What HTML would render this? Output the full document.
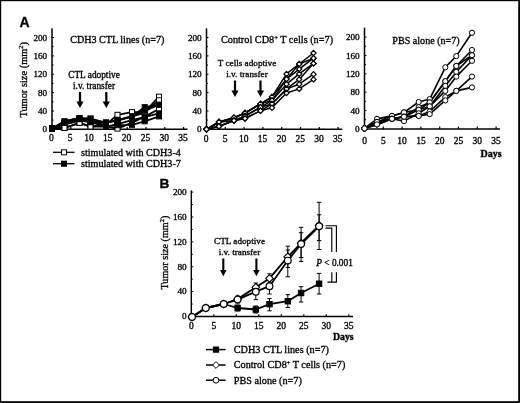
<!DOCTYPE html>
<html><head><meta charset="utf-8"><title>Figure</title>
<style>html,body{margin:0;padding:0;background:#fff}svg{display:block}</style></head>
<body>
<svg width="520" height="403" viewBox="0 0 520 403">
<rect x="0" y="0" width="520" height="403" fill="#fff"/>
<style>text{stroke:#000;stroke-width:0.32px}</style>
<line x1="52" y1="28.2" x2="52" y2="130.0" stroke="#000" stroke-width="1.5" />
<line x1="51.3" y1="129.3" x2="187.5" y2="129.3" stroke="#000" stroke-width="1.5" />
<line x1="52" y1="120.12" x2="53.55" y2="120.12" stroke="#000" stroke-width="1" />
<line x1="52" y1="110.94000000000001" x2="54.0" y2="110.94000000000001" stroke="#000" stroke-width="1" />
<line x1="52" y1="101.76" x2="53.55" y2="101.76" stroke="#000" stroke-width="1" />
<line x1="52" y1="92.58000000000001" x2="54.0" y2="92.58000000000001" stroke="#000" stroke-width="1" />
<line x1="52" y1="83.4" x2="53.55" y2="83.4" stroke="#000" stroke-width="1" />
<line x1="52" y1="74.22" x2="54.0" y2="74.22" stroke="#000" stroke-width="1" />
<line x1="52" y1="65.04" x2="53.55" y2="65.04" stroke="#000" stroke-width="1" />
<line x1="52" y1="55.860000000000014" x2="54.0" y2="55.860000000000014" stroke="#000" stroke-width="1" />
<line x1="52" y1="46.68000000000001" x2="53.55" y2="46.68000000000001" stroke="#000" stroke-width="1" />
<line x1="52" y1="37.500000000000014" x2="54.0" y2="37.500000000000014" stroke="#000" stroke-width="1" />
<text x="47.2" y="132.4" font-size="9.2" text-anchor="end" font-family="Liberation Serif, serif" >0</text>
<text x="47.2" y="114.04" font-size="9.2" text-anchor="end" font-family="Liberation Serif, serif" >40</text>
<text x="47.2" y="95.68" font-size="9.2" text-anchor="end" font-family="Liberation Serif, serif" >80</text>
<text x="47.2" y="77.32" font-size="9.2" text-anchor="end" font-family="Liberation Serif, serif" >120</text>
<text x="47.2" y="58.960000000000015" font-size="9.2" text-anchor="end" font-family="Liberation Serif, serif" >160</text>
<text x="47.2" y="40.600000000000016" font-size="9.2" text-anchor="end" font-family="Liberation Serif, serif" >200</text>
<line x1="70.8" y1="129.3" x2="70.8" y2="127.00000000000001" stroke="#000" stroke-width="1.2" />
<line x1="89.6" y1="129.3" x2="89.6" y2="127.00000000000001" stroke="#000" stroke-width="1.2" />
<line x1="108.4" y1="129.3" x2="108.4" y2="127.00000000000001" stroke="#000" stroke-width="1.2" />
<line x1="127.19999999999999" y1="129.3" x2="127.19999999999999" y2="127.00000000000001" stroke="#000" stroke-width="1.2" />
<line x1="146.0" y1="129.3" x2="146.0" y2="127.00000000000001" stroke="#000" stroke-width="1.2" />
<line x1="164.8" y1="129.3" x2="164.8" y2="127.00000000000001" stroke="#000" stroke-width="1.2" />
<line x1="183.6" y1="129.3" x2="183.6" y2="127.00000000000001" stroke="#000" stroke-width="1.2" />
<text x="51.4" y="141.4" font-size="9.5" text-anchor="middle" font-family="Liberation Serif, serif" >0</text>
<text x="70.2" y="141.4" font-size="9.5" text-anchor="middle" font-family="Liberation Serif, serif" >5</text>
<text x="89.0" y="141.4" font-size="9.5" text-anchor="middle" font-family="Liberation Serif, serif" >10</text>
<text x="107.80000000000001" y="141.4" font-size="9.5" text-anchor="middle" font-family="Liberation Serif, serif" >15</text>
<text x="126.6" y="141.4" font-size="9.5" text-anchor="middle" font-family="Liberation Serif, serif" >20</text>
<text x="145.4" y="141.4" font-size="9.5" text-anchor="middle" font-family="Liberation Serif, serif" >25</text>
<text x="164.20000000000002" y="141.4" font-size="9.5" text-anchor="middle" font-family="Liberation Serif, serif" >30</text>
<text x="183.0" y="141.4" font-size="9.5" text-anchor="middle" font-family="Liberation Serif, serif" >35</text>
<text x="19.6" y="27.3" font-size="14" text-anchor="start" font-family="Liberation Sans, sans-serif" font-weight="bold" >A</text>
<text transform="translate(26.6,79.8) rotate(-90)" font-size="10.4" text-anchor="middle" font-family="Liberation Serif, serif">Tumor size (mm<tspan font-size="6.5" dy="-3.5">2</tspan><tspan dy="3.5">)</tspan></text>
<text x="117.3" y="42.6" font-size="10.1" text-anchor="middle" font-family="Liberation Serif, serif" >CDH3 CTL lines (n=7)</text>
<text x="94" y="77.8" font-size="9.3" text-anchor="middle" font-family="Liberation Serif, serif" >CTL adoptive</text>
<text x="94" y="88.5" font-size="9.3" text-anchor="middle" font-family="Liberation Serif, serif" >i.v. transfer</text>
<line x1="80" y1="92" x2="80" y2="102.5" stroke="#000" stroke-width="2.2" />
<path d="M76.4 101.5L83.6 101.5L80 108Z" fill="#000"/>
<line x1="106.3" y1="92" x2="106.3" y2="102.5" stroke="#000" stroke-width="2.2" />
<path d="M102.7 101.5L109.89999999999999 101.5L106.3 108Z" fill="#000"/>
<polyline points="52.0,128.6 64.5,128.0 79.5,122.9 90.5,126.6 106.0,124.6 117.5,114.8 132.0,112.1 144.7,112.1 159.0,96.7" fill="none" stroke="#000" stroke-width="1.8" stroke-linejoin="round"/>
<polyline points="52.0,128.6 64.5,124.6 79.5,120.6 90.5,122.1 106.0,122.6 117.5,120.6 132.0,116.6 144.7,112.6 159.0,100.2" fill="none" stroke="#000" stroke-width="1.8" stroke-linejoin="round"/>
<polyline points="52.0,128.6 64.5,128.0 79.5,122.9 90.5,126.6 106.0,126.6 117.5,128.6 132.0,122.6 144.7,116.6 159.0,109.0" fill="none" stroke="#000" stroke-width="1.8" stroke-linejoin="round"/>
<rect x="49.5" y="126.1" width="5" height="5" fill="#fff" stroke="#000" stroke-width="1"/>
<rect x="62.0" y="125.5" width="5" height="5" fill="#fff" stroke="#000" stroke-width="1"/>
<rect x="77.0" y="120.4" width="5" height="5" fill="#fff" stroke="#000" stroke-width="1"/>
<rect x="88.0" y="124.1" width="5" height="5" fill="#fff" stroke="#000" stroke-width="1"/>
<rect x="103.5" y="122.1" width="5" height="5" fill="#fff" stroke="#000" stroke-width="1"/>
<rect x="115.0" y="112.3" width="5" height="5" fill="#fff" stroke="#000" stroke-width="1"/>
<rect x="129.5" y="109.6" width="5" height="5" fill="#fff" stroke="#000" stroke-width="1"/>
<rect x="142.2" y="109.6" width="5" height="5" fill="#fff" stroke="#000" stroke-width="1"/>
<rect x="156.5" y="94.2" width="5" height="5" fill="#fff" stroke="#000" stroke-width="1"/>
<rect x="49.5" y="126.1" width="5" height="5" fill="#fff" stroke="#000" stroke-width="1"/>
<rect x="62.0" y="122.1" width="5" height="5" fill="#fff" stroke="#000" stroke-width="1"/>
<rect x="77.0" y="118.1" width="5" height="5" fill="#fff" stroke="#000" stroke-width="1"/>
<rect x="88.0" y="119.6" width="5" height="5" fill="#fff" stroke="#000" stroke-width="1"/>
<rect x="103.5" y="120.1" width="5" height="5" fill="#fff" stroke="#000" stroke-width="1"/>
<rect x="115.0" y="118.1" width="5" height="5" fill="#fff" stroke="#000" stroke-width="1"/>
<rect x="129.5" y="114.1" width="5" height="5" fill="#fff" stroke="#000" stroke-width="1"/>
<rect x="142.2" y="110.1" width="5" height="5" fill="#fff" stroke="#000" stroke-width="1"/>
<rect x="156.5" y="97.7" width="5" height="5" fill="#fff" stroke="#000" stroke-width="1"/>
<rect x="49.5" y="126.1" width="5" height="5" fill="#fff" stroke="#000" stroke-width="1"/>
<rect x="62.0" y="125.5" width="5" height="5" fill="#fff" stroke="#000" stroke-width="1"/>
<rect x="77.0" y="120.4" width="5" height="5" fill="#fff" stroke="#000" stroke-width="1"/>
<rect x="88.0" y="124.1" width="5" height="5" fill="#fff" stroke="#000" stroke-width="1"/>
<rect x="103.5" y="124.1" width="5" height="5" fill="#fff" stroke="#000" stroke-width="1"/>
<rect x="115.0" y="126.1" width="5" height="5" fill="#fff" stroke="#000" stroke-width="1"/>
<rect x="129.5" y="120.1" width="5" height="5" fill="#fff" stroke="#000" stroke-width="1"/>
<rect x="142.2" y="114.1" width="5" height="5" fill="#fff" stroke="#000" stroke-width="1"/>
<rect x="156.5" y="106.5" width="5" height="5" fill="#fff" stroke="#000" stroke-width="1"/>
<polyline points="52.0,128.6 64.5,121.4 79.5,118.0 90.5,118.6 106.0,122.6 117.5,120.2 132.0,116.4 144.7,107.1 159.0,104.8" fill="none" stroke="#000" stroke-width="1.8" stroke-linejoin="round"/>
<rect x="49.5" y="126.1" width="5" height="5" fill="#000" stroke="#000" stroke-width="1"/>
<rect x="62.0" y="118.9" width="5" height="5" fill="#000" stroke="#000" stroke-width="1"/>
<rect x="77.0" y="115.5" width="5" height="5" fill="#000" stroke="#000" stroke-width="1"/>
<rect x="88.0" y="116.1" width="5" height="5" fill="#000" stroke="#000" stroke-width="1"/>
<rect x="103.5" y="120.1" width="5" height="5" fill="#000" stroke="#000" stroke-width="1"/>
<rect x="115.0" y="117.7" width="5" height="5" fill="#000" stroke="#000" stroke-width="1"/>
<rect x="129.5" y="113.9" width="5" height="5" fill="#000" stroke="#000" stroke-width="1"/>
<rect x="142.2" y="104.6" width="5" height="5" fill="#000" stroke="#000" stroke-width="1"/>
<rect x="156.5" y="102.3" width="5" height="5" fill="#000" stroke="#000" stroke-width="1"/>
<polyline points="52.0,128.6 64.5,121.4 79.5,118.0 90.5,122.1 106.0,122.6 117.5,120.2 132.0,116.4 144.7,110.6 159.0,104.8" fill="none" stroke="#000" stroke-width="1.8" stroke-linejoin="round"/>
<rect x="49.5" y="126.1" width="5" height="5" fill="#000" stroke="#000" stroke-width="1"/>
<rect x="62.0" y="118.9" width="5" height="5" fill="#000" stroke="#000" stroke-width="1"/>
<rect x="77.0" y="115.5" width="5" height="5" fill="#000" stroke="#000" stroke-width="1"/>
<rect x="88.0" y="119.6" width="5" height="5" fill="#000" stroke="#000" stroke-width="1"/>
<rect x="103.5" y="120.1" width="5" height="5" fill="#000" stroke="#000" stroke-width="1"/>
<rect x="115.0" y="117.7" width="5" height="5" fill="#000" stroke="#000" stroke-width="1"/>
<rect x="129.5" y="113.9" width="5" height="5" fill="#000" stroke="#000" stroke-width="1"/>
<rect x="142.2" y="108.1" width="5" height="5" fill="#000" stroke="#000" stroke-width="1"/>
<rect x="156.5" y="102.3" width="5" height="5" fill="#000" stroke="#000" stroke-width="1"/>
<polyline points="52.0,128.6 64.5,122.6 79.5,119.1 90.5,118.6 106.0,126.6 117.5,124.1 132.0,120.2 144.7,117.1 159.0,113.3" fill="none" stroke="#000" stroke-width="1.8" stroke-linejoin="round"/>
<rect x="49.5" y="126.1" width="5" height="5" fill="#000" stroke="#000" stroke-width="1"/>
<rect x="62.0" y="120.1" width="5" height="5" fill="#000" stroke="#000" stroke-width="1"/>
<rect x="77.0" y="116.6" width="5" height="5" fill="#000" stroke="#000" stroke-width="1"/>
<rect x="88.0" y="116.1" width="5" height="5" fill="#000" stroke="#000" stroke-width="1"/>
<rect x="103.5" y="124.1" width="5" height="5" fill="#000" stroke="#000" stroke-width="1"/>
<rect x="115.0" y="121.6" width="5" height="5" fill="#000" stroke="#000" stroke-width="1"/>
<rect x="129.5" y="117.7" width="5" height="5" fill="#000" stroke="#000" stroke-width="1"/>
<rect x="142.2" y="114.6" width="5" height="5" fill="#000" stroke="#000" stroke-width="1"/>
<rect x="156.5" y="110.8" width="5" height="5" fill="#000" stroke="#000" stroke-width="1"/>
<polyline points="52.0,128.6 64.5,122.6 79.5,119.1 90.5,122.1 106.0,126.6 117.5,125.2 132.0,124.8 144.7,121.3 159.0,116.4" fill="none" stroke="#000" stroke-width="1.8" stroke-linejoin="round"/>
<rect x="49.5" y="126.1" width="5" height="5" fill="#000" stroke="#000" stroke-width="1"/>
<rect x="62.0" y="120.1" width="5" height="5" fill="#000" stroke="#000" stroke-width="1"/>
<rect x="77.0" y="116.6" width="5" height="5" fill="#000" stroke="#000" stroke-width="1"/>
<rect x="88.0" y="119.6" width="5" height="5" fill="#000" stroke="#000" stroke-width="1"/>
<rect x="103.5" y="124.1" width="5" height="5" fill="#000" stroke="#000" stroke-width="1"/>
<rect x="115.0" y="122.7" width="5" height="5" fill="#000" stroke="#000" stroke-width="1"/>
<rect x="129.5" y="122.3" width="5" height="5" fill="#000" stroke="#000" stroke-width="1"/>
<rect x="142.2" y="118.8" width="5" height="5" fill="#000" stroke="#000" stroke-width="1"/>
<rect x="156.5" y="113.9" width="5" height="5" fill="#000" stroke="#000" stroke-width="1"/>
<line x1="53" y1="152.3" x2="74.5" y2="152.3" stroke="#000" stroke-width="1.3" />
<rect x="61.5" y="149.8" width="5" height="5" fill="#fff" stroke="#000" stroke-width="1"/>
<text x="81" y="155.6" font-size="10.1" text-anchor="start" font-family="Liberation Serif, serif" >stimulated with CDH3-4</text>
<line x1="53" y1="163.7" x2="74.5" y2="163.7" stroke="#000" stroke-width="1.3" />
<rect x="61.5" y="161.2" width="5" height="5" fill="#000" stroke="#000" stroke-width="1"/>
<text x="81" y="167.2" font-size="10.1" text-anchor="start" font-family="Liberation Serif, serif" >stimulated with CDH3-7</text>
<line x1="206.5" y1="28.4" x2="206.5" y2="130.0" stroke="#000" stroke-width="1.5" />
<line x1="205.8" y1="129.3" x2="342.3" y2="129.3" stroke="#000" stroke-width="1.5" />
<line x1="206.5" y1="120.12" x2="208.05" y2="120.12" stroke="#000" stroke-width="1" />
<line x1="206.5" y1="110.94000000000001" x2="208.5" y2="110.94000000000001" stroke="#000" stroke-width="1" />
<line x1="206.5" y1="101.76" x2="208.05" y2="101.76" stroke="#000" stroke-width="1" />
<line x1="206.5" y1="92.58000000000001" x2="208.5" y2="92.58000000000001" stroke="#000" stroke-width="1" />
<line x1="206.5" y1="83.4" x2="208.05" y2="83.4" stroke="#000" stroke-width="1" />
<line x1="206.5" y1="74.22" x2="208.5" y2="74.22" stroke="#000" stroke-width="1" />
<line x1="206.5" y1="65.04" x2="208.05" y2="65.04" stroke="#000" stroke-width="1" />
<line x1="206.5" y1="55.860000000000014" x2="208.5" y2="55.860000000000014" stroke="#000" stroke-width="1" />
<line x1="206.5" y1="46.68000000000001" x2="208.05" y2="46.68000000000001" stroke="#000" stroke-width="1" />
<line x1="206.5" y1="37.500000000000014" x2="208.5" y2="37.500000000000014" stroke="#000" stroke-width="1" />
<text x="201.7" y="132.4" font-size="9.2" text-anchor="end" font-family="Liberation Serif, serif" >0</text>
<text x="201.7" y="114.04" font-size="9.2" text-anchor="end" font-family="Liberation Serif, serif" >40</text>
<text x="201.7" y="95.68" font-size="9.2" text-anchor="end" font-family="Liberation Serif, serif" >80</text>
<text x="201.7" y="77.32" font-size="9.2" text-anchor="end" font-family="Liberation Serif, serif" >120</text>
<text x="201.7" y="58.960000000000015" font-size="9.2" text-anchor="end" font-family="Liberation Serif, serif" >160</text>
<text x="201.7" y="40.600000000000016" font-size="9.2" text-anchor="end" font-family="Liberation Serif, serif" >200</text>
<line x1="225.3" y1="129.3" x2="225.3" y2="127.00000000000001" stroke="#000" stroke-width="1.2" />
<line x1="244.1" y1="129.3" x2="244.1" y2="127.00000000000001" stroke="#000" stroke-width="1.2" />
<line x1="262.9" y1="129.3" x2="262.9" y2="127.00000000000001" stroke="#000" stroke-width="1.2" />
<line x1="281.7" y1="129.3" x2="281.7" y2="127.00000000000001" stroke="#000" stroke-width="1.2" />
<line x1="300.5" y1="129.3" x2="300.5" y2="127.00000000000001" stroke="#000" stroke-width="1.2" />
<line x1="319.3" y1="129.3" x2="319.3" y2="127.00000000000001" stroke="#000" stroke-width="1.2" />
<line x1="338.1" y1="129.3" x2="338.1" y2="127.00000000000001" stroke="#000" stroke-width="1.2" />
<text x="206.2" y="141.9" font-size="9.5" text-anchor="middle" font-family="Liberation Serif, serif" >0</text>
<text x="225.0" y="141.9" font-size="9.5" text-anchor="middle" font-family="Liberation Serif, serif" >5</text>
<text x="243.79999999999998" y="141.9" font-size="9.5" text-anchor="middle" font-family="Liberation Serif, serif" >10</text>
<text x="262.59999999999997" y="141.9" font-size="9.5" text-anchor="middle" font-family="Liberation Serif, serif" >15</text>
<text x="281.4" y="141.9" font-size="9.5" text-anchor="middle" font-family="Liberation Serif, serif" >20</text>
<text x="300.2" y="141.9" font-size="9.5" text-anchor="middle" font-family="Liberation Serif, serif" >25</text>
<text x="319.0" y="141.9" font-size="9.5" text-anchor="middle" font-family="Liberation Serif, serif" >30</text>
<text x="337.8" y="141.9" font-size="9.5" text-anchor="middle" font-family="Liberation Serif, serif" >35</text>
<text x="277" y="43.4" font-size="10.25" text-anchor="middle" font-family="Liberation Serif, serif">Control CD8<tspan font-size="6.5" dy="-3.5">+</tspan><tspan dy="3.5"> T cells (n=7)</tspan></text>
<text x="247" y="65.8" font-size="9.2" text-anchor="middle" font-family="Liberation Serif, serif" >T cells adoptive</text>
<text x="247" y="76.8" font-size="9.2" text-anchor="middle" font-family="Liberation Serif, serif" >i.v. transfer</text>
<line x1="235" y1="80.5" x2="235" y2="91.5" stroke="#000" stroke-width="2.2" />
<path d="M231.4 90.5L238.6 90.5L235 97Z" fill="#000"/>
<line x1="260.5" y1="80.5" x2="260.5" y2="91.5" stroke="#000" stroke-width="2.2" />
<path d="M256.9 90.5L264.1 90.5L260.5 97Z" fill="#000"/>
<polyline points="206.5,129.3 219.0,122.0 234.0,117.7 245.0,113.0 260.5,103.9 272.0,96.9 286.5,73.9 299.2,64.0 313.5,53.0" fill="none" stroke="#000" stroke-width="1.5" stroke-linejoin="round"/>
<polyline points="206.5,129.3 219.0,122.0 234.0,117.7 245.0,113.0 260.5,103.9 272.0,96.9 286.5,79.1 299.2,64.0 313.5,58.2" fill="none" stroke="#000" stroke-width="1.5" stroke-linejoin="round"/>
<polyline points="206.5,129.3 219.0,122.0 234.0,117.7 245.0,113.0 260.5,103.9 272.0,100.4 286.5,79.1 299.2,69.1 313.5,58.2" fill="none" stroke="#000" stroke-width="1.5" stroke-linejoin="round"/>
<polyline points="206.5,129.3 219.0,122.0 234.0,120.6 245.0,116.0 260.5,107.3 272.0,100.4 286.5,84.2 299.2,73.9 313.5,63.4" fill="none" stroke="#000" stroke-width="1.5" stroke-linejoin="round"/>
<polyline points="206.5,129.3 219.0,126.3 234.0,120.6 245.0,116.0 260.5,107.3 272.0,103.9 286.5,88.9 299.2,79.4 313.5,63.4" fill="none" stroke="#000" stroke-width="1.5" stroke-linejoin="round"/>
<polyline points="206.5,129.3 219.0,126.3 234.0,120.6 245.0,118.5 260.5,110.8 272.0,103.9 286.5,88.9 299.2,84.2 313.5,74.2" fill="none" stroke="#000" stroke-width="1.5" stroke-linejoin="round"/>
<polyline points="206.5,129.3 219.0,126.3 234.0,120.6 245.0,118.5 260.5,110.8 272.0,107.8 286.5,93.0 299.2,88.9 313.5,79.4" fill="none" stroke="#000" stroke-width="1.5" stroke-linejoin="round"/>
<path d="M206.5 126.7L209.1 129.3L206.5 131.9L203.9 129.3Z" fill="#fff" stroke="#000" stroke-width="1.2"/>
<path d="M219.0 119.4L221.6 122.0L219.0 124.6L216.4 122.0Z" fill="#fff" stroke="#000" stroke-width="1.2"/>
<path d="M234.0 115.1L236.6 117.7L234.0 120.3L231.4 117.7Z" fill="#fff" stroke="#000" stroke-width="1.2"/>
<path d="M245.0 110.4L247.6 113.0L245.0 115.6L242.4 113.0Z" fill="#fff" stroke="#000" stroke-width="1.2"/>
<path d="M260.5 101.3L263.1 103.9L260.5 106.5L257.9 103.9Z" fill="#fff" stroke="#000" stroke-width="1.2"/>
<path d="M272.0 94.3L274.6 96.9L272.0 99.5L269.4 96.9Z" fill="#fff" stroke="#000" stroke-width="1.2"/>
<path d="M286.5 71.3L289.1 73.9L286.5 76.5L283.9 73.9Z" fill="#fff" stroke="#000" stroke-width="1.2"/>
<path d="M299.2 61.4L301.8 64.0L299.2 66.6L296.6 64.0Z" fill="#fff" stroke="#000" stroke-width="1.2"/>
<path d="M313.5 50.4L316.1 53.0L313.5 55.6L310.9 53.0Z" fill="#fff" stroke="#000" stroke-width="1.2"/>
<path d="M206.5 126.7L209.1 129.3L206.5 131.9L203.9 129.3Z" fill="#fff" stroke="#000" stroke-width="1.2"/>
<path d="M219.0 119.4L221.6 122.0L219.0 124.6L216.4 122.0Z" fill="#fff" stroke="#000" stroke-width="1.2"/>
<path d="M234.0 115.1L236.6 117.7L234.0 120.3L231.4 117.7Z" fill="#fff" stroke="#000" stroke-width="1.2"/>
<path d="M245.0 110.4L247.6 113.0L245.0 115.6L242.4 113.0Z" fill="#fff" stroke="#000" stroke-width="1.2"/>
<path d="M260.5 101.3L263.1 103.9L260.5 106.5L257.9 103.9Z" fill="#fff" stroke="#000" stroke-width="1.2"/>
<path d="M272.0 94.3L274.6 96.9L272.0 99.5L269.4 96.9Z" fill="#fff" stroke="#000" stroke-width="1.2"/>
<path d="M286.5 76.5L289.1 79.1L286.5 81.7L283.9 79.1Z" fill="#fff" stroke="#000" stroke-width="1.2"/>
<path d="M299.2 61.4L301.8 64.0L299.2 66.6L296.6 64.0Z" fill="#fff" stroke="#000" stroke-width="1.2"/>
<path d="M313.5 55.6L316.1 58.2L313.5 60.8L310.9 58.2Z" fill="#fff" stroke="#000" stroke-width="1.2"/>
<path d="M206.5 126.7L209.1 129.3L206.5 131.9L203.9 129.3Z" fill="#fff" stroke="#000" stroke-width="1.2"/>
<path d="M219.0 119.4L221.6 122.0L219.0 124.6L216.4 122.0Z" fill="#fff" stroke="#000" stroke-width="1.2"/>
<path d="M234.0 115.1L236.6 117.7L234.0 120.3L231.4 117.7Z" fill="#fff" stroke="#000" stroke-width="1.2"/>
<path d="M245.0 110.4L247.6 113.0L245.0 115.6L242.4 113.0Z" fill="#fff" stroke="#000" stroke-width="1.2"/>
<path d="M260.5 101.3L263.1 103.9L260.5 106.5L257.9 103.9Z" fill="#fff" stroke="#000" stroke-width="1.2"/>
<path d="M272.0 97.8L274.6 100.4L272.0 103.0L269.4 100.4Z" fill="#fff" stroke="#000" stroke-width="1.2"/>
<path d="M286.5 76.5L289.1 79.1L286.5 81.7L283.9 79.1Z" fill="#fff" stroke="#000" stroke-width="1.2"/>
<path d="M299.2 66.5L301.8 69.1L299.2 71.7L296.6 69.1Z" fill="#fff" stroke="#000" stroke-width="1.2"/>
<path d="M313.5 55.6L316.1 58.2L313.5 60.8L310.9 58.2Z" fill="#fff" stroke="#000" stroke-width="1.2"/>
<path d="M206.5 126.7L209.1 129.3L206.5 131.9L203.9 129.3Z" fill="#fff" stroke="#000" stroke-width="1.2"/>
<path d="M219.0 119.4L221.6 122.0L219.0 124.6L216.4 122.0Z" fill="#fff" stroke="#000" stroke-width="1.2"/>
<path d="M234.0 118.0L236.6 120.6L234.0 123.2L231.4 120.6Z" fill="#fff" stroke="#000" stroke-width="1.2"/>
<path d="M245.0 113.4L247.6 116.0L245.0 118.6L242.4 116.0Z" fill="#fff" stroke="#000" stroke-width="1.2"/>
<path d="M260.5 104.7L263.1 107.3L260.5 109.9L257.9 107.3Z" fill="#fff" stroke="#000" stroke-width="1.2"/>
<path d="M272.0 97.8L274.6 100.4L272.0 103.0L269.4 100.4Z" fill="#fff" stroke="#000" stroke-width="1.2"/>
<path d="M286.5 81.6L289.1 84.2L286.5 86.8L283.9 84.2Z" fill="#fff" stroke="#000" stroke-width="1.2"/>
<path d="M299.2 71.3L301.8 73.9L299.2 76.5L296.6 73.9Z" fill="#fff" stroke="#000" stroke-width="1.2"/>
<path d="M313.5 60.8L316.1 63.4L313.5 66.0L310.9 63.4Z" fill="#fff" stroke="#000" stroke-width="1.2"/>
<path d="M206.5 126.7L209.1 129.3L206.5 131.9L203.9 129.3Z" fill="#fff" stroke="#000" stroke-width="1.2"/>
<path d="M219.0 123.7L221.6 126.3L219.0 128.9L216.4 126.3Z" fill="#fff" stroke="#000" stroke-width="1.2"/>
<path d="M234.0 118.0L236.6 120.6L234.0 123.2L231.4 120.6Z" fill="#fff" stroke="#000" stroke-width="1.2"/>
<path d="M245.0 113.4L247.6 116.0L245.0 118.6L242.4 116.0Z" fill="#fff" stroke="#000" stroke-width="1.2"/>
<path d="M260.5 104.7L263.1 107.3L260.5 109.9L257.9 107.3Z" fill="#fff" stroke="#000" stroke-width="1.2"/>
<path d="M272.0 101.3L274.6 103.9L272.0 106.5L269.4 103.9Z" fill="#fff" stroke="#000" stroke-width="1.2"/>
<path d="M286.5 86.3L289.1 88.9L286.5 91.5L283.9 88.9Z" fill="#fff" stroke="#000" stroke-width="1.2"/>
<path d="M299.2 76.8L301.8 79.4L299.2 82.0L296.6 79.4Z" fill="#fff" stroke="#000" stroke-width="1.2"/>
<path d="M313.5 60.8L316.1 63.4L313.5 66.0L310.9 63.4Z" fill="#fff" stroke="#000" stroke-width="1.2"/>
<path d="M206.5 126.7L209.1 129.3L206.5 131.9L203.9 129.3Z" fill="#fff" stroke="#000" stroke-width="1.2"/>
<path d="M219.0 123.7L221.6 126.3L219.0 128.9L216.4 126.3Z" fill="#fff" stroke="#000" stroke-width="1.2"/>
<path d="M234.0 118.0L236.6 120.6L234.0 123.2L231.4 120.6Z" fill="#fff" stroke="#000" stroke-width="1.2"/>
<path d="M245.0 115.9L247.6 118.5L245.0 121.1L242.4 118.5Z" fill="#fff" stroke="#000" stroke-width="1.2"/>
<path d="M260.5 108.2L263.1 110.8L260.5 113.4L257.9 110.8Z" fill="#fff" stroke="#000" stroke-width="1.2"/>
<path d="M272.0 101.3L274.6 103.9L272.0 106.5L269.4 103.9Z" fill="#fff" stroke="#000" stroke-width="1.2"/>
<path d="M286.5 86.3L289.1 88.9L286.5 91.5L283.9 88.9Z" fill="#fff" stroke="#000" stroke-width="1.2"/>
<path d="M299.2 81.6L301.8 84.2L299.2 86.8L296.6 84.2Z" fill="#fff" stroke="#000" stroke-width="1.2"/>
<path d="M313.5 71.6L316.1 74.2L313.5 76.8L310.9 74.2Z" fill="#fff" stroke="#000" stroke-width="1.2"/>
<path d="M206.5 126.7L209.1 129.3L206.5 131.9L203.9 129.3Z" fill="#fff" stroke="#000" stroke-width="1.2"/>
<path d="M219.0 123.7L221.6 126.3L219.0 128.9L216.4 126.3Z" fill="#fff" stroke="#000" stroke-width="1.2"/>
<path d="M234.0 118.0L236.6 120.6L234.0 123.2L231.4 120.6Z" fill="#fff" stroke="#000" stroke-width="1.2"/>
<path d="M245.0 115.9L247.6 118.5L245.0 121.1L242.4 118.5Z" fill="#fff" stroke="#000" stroke-width="1.2"/>
<path d="M260.5 108.2L263.1 110.8L260.5 113.4L257.9 110.8Z" fill="#fff" stroke="#000" stroke-width="1.2"/>
<path d="M272.0 105.2L274.6 107.8L272.0 110.4L269.4 107.8Z" fill="#fff" stroke="#000" stroke-width="1.2"/>
<path d="M286.5 90.4L289.1 93.0L286.5 95.6L283.9 93.0Z" fill="#fff" stroke="#000" stroke-width="1.2"/>
<path d="M299.2 86.3L301.8 88.9L299.2 91.5L296.6 88.9Z" fill="#fff" stroke="#000" stroke-width="1.2"/>
<path d="M313.5 76.8L316.1 79.4L313.5 82.0L310.9 79.4Z" fill="#fff" stroke="#000" stroke-width="1.2"/>
<line x1="364.5" y1="27.7" x2="364.5" y2="129.6" stroke="#000" stroke-width="1.5" />
<line x1="363.8" y1="128.9" x2="500" y2="128.9" stroke="#000" stroke-width="1.5" />
<line x1="364.5" y1="119.72" x2="366.05" y2="119.72" stroke="#000" stroke-width="1" />
<line x1="364.5" y1="110.54" x2="366.5" y2="110.54" stroke="#000" stroke-width="1" />
<line x1="364.5" y1="101.36" x2="366.05" y2="101.36" stroke="#000" stroke-width="1" />
<line x1="364.5" y1="92.18" x2="366.5" y2="92.18" stroke="#000" stroke-width="1" />
<line x1="364.5" y1="83.0" x2="366.05" y2="83.0" stroke="#000" stroke-width="1" />
<line x1="364.5" y1="73.82" x2="366.5" y2="73.82" stroke="#000" stroke-width="1" />
<line x1="364.5" y1="64.64" x2="366.05" y2="64.64" stroke="#000" stroke-width="1" />
<line x1="364.5" y1="55.46000000000001" x2="366.5" y2="55.46000000000001" stroke="#000" stroke-width="1" />
<line x1="364.5" y1="46.28" x2="366.05" y2="46.28" stroke="#000" stroke-width="1" />
<line x1="364.5" y1="37.10000000000001" x2="366.5" y2="37.10000000000001" stroke="#000" stroke-width="1" />
<text x="359.7" y="132.0" font-size="9.2" text-anchor="end" font-family="Liberation Serif, serif" >0</text>
<text x="359.7" y="113.64" font-size="9.2" text-anchor="end" font-family="Liberation Serif, serif" >40</text>
<text x="359.7" y="95.28" font-size="9.2" text-anchor="end" font-family="Liberation Serif, serif" >80</text>
<text x="359.7" y="76.91999999999999" font-size="9.2" text-anchor="end" font-family="Liberation Serif, serif" >120</text>
<text x="359.7" y="58.56000000000001" font-size="9.2" text-anchor="end" font-family="Liberation Serif, serif" >160</text>
<text x="359.7" y="40.20000000000001" font-size="9.2" text-anchor="end" font-family="Liberation Serif, serif" >200</text>
<line x1="383.3" y1="128.9" x2="383.3" y2="126.60000000000001" stroke="#000" stroke-width="1.2" />
<line x1="402.1" y1="128.9" x2="402.1" y2="126.60000000000001" stroke="#000" stroke-width="1.2" />
<line x1="420.9" y1="128.9" x2="420.9" y2="126.60000000000001" stroke="#000" stroke-width="1.2" />
<line x1="439.7" y1="128.9" x2="439.7" y2="126.60000000000001" stroke="#000" stroke-width="1.2" />
<line x1="458.5" y1="128.9" x2="458.5" y2="126.60000000000001" stroke="#000" stroke-width="1.2" />
<line x1="477.3" y1="128.9" x2="477.3" y2="126.60000000000001" stroke="#000" stroke-width="1.2" />
<line x1="496.1" y1="128.9" x2="496.1" y2="126.60000000000001" stroke="#000" stroke-width="1.2" />
<text x="364.5" y="144.4" font-size="9.5" text-anchor="middle" font-family="Liberation Serif, serif" >0</text>
<text x="383.3" y="144.4" font-size="9.5" text-anchor="middle" font-family="Liberation Serif, serif" >5</text>
<text x="402.1" y="144.4" font-size="9.5" text-anchor="middle" font-family="Liberation Serif, serif" >10</text>
<text x="420.9" y="144.4" font-size="9.5" text-anchor="middle" font-family="Liberation Serif, serif" >15</text>
<text x="439.7" y="144.4" font-size="9.5" text-anchor="middle" font-family="Liberation Serif, serif" >20</text>
<text x="458.5" y="144.4" font-size="9.5" text-anchor="middle" font-family="Liberation Serif, serif" >25</text>
<text x="477.3" y="144.4" font-size="9.5" text-anchor="middle" font-family="Liberation Serif, serif" >30</text>
<text x="496.1" y="144.4" font-size="9.5" text-anchor="middle" font-family="Liberation Serif, serif" >35</text>
<text x="426" y="44.2" font-size="10.1" text-anchor="middle" font-family="Liberation Serif, serif" >PBS alone (n=7)</text>
<text x="480.5" y="156.5" font-size="10" text-anchor="start" font-family="Liberation Serif, serif" font-weight="bold" >Days</text>
<polyline points="364.5,128.4 377.0,118.9 392.0,115.9 404.0,112.4 418.7,102.0 429.7,99.1 445.3,67.3 456.3,56.1 472.0,32.8" fill="none" stroke="#000" stroke-width="1.6" stroke-linejoin="round"/>
<polyline points="364.5,128.4 377.0,121.9 392.0,118.8 404.0,116.7 418.7,107.2 429.7,102.4 445.3,81.2 456.3,66.0 472.0,50.0" fill="none" stroke="#000" stroke-width="1.6" stroke-linejoin="round"/>
<polyline points="364.5,128.4 377.0,121.9 392.0,115.9 404.0,112.4 418.7,109.8 429.7,102.4 445.3,81.2 456.3,66.0 472.0,55.2" fill="none" stroke="#000" stroke-width="1.6" stroke-linejoin="round"/>
<polyline points="364.5,128.4 377.0,124.4 392.0,118.8 404.0,116.7 418.7,109.8 429.7,106.4 445.3,85.9 456.3,71.9 472.0,55.2" fill="none" stroke="#000" stroke-width="1.6" stroke-linejoin="round"/>
<polyline points="364.5,128.4 377.0,124.4 392.0,118.8 404.0,121.1 418.7,113.3 429.7,106.4 445.3,90.9 456.3,76.6 472.0,60.8" fill="none" stroke="#000" stroke-width="1.6" stroke-linejoin="round"/>
<polyline points="364.5,128.4 377.0,121.9 392.0,118.8 404.0,116.7 418.7,115.9 429.7,111.5 445.3,97.1 456.3,90.9 472.0,76.6" fill="none" stroke="#000" stroke-width="1.6" stroke-linejoin="round"/>
<polyline points="364.5,128.4 377.0,124.4 392.0,118.8 404.0,116.7 418.7,115.9 429.7,114.1 445.3,100.4 456.3,90.9 472.0,87.4" fill="none" stroke="#000" stroke-width="1.6" stroke-linejoin="round"/>
<circle cx="364.5" cy="128.4" r="2.6" fill="#fff" stroke="#000" stroke-width="1"/>
<circle cx="377.0" cy="118.9" r="2.6" fill="#fff" stroke="#000" stroke-width="1"/>
<circle cx="392.0" cy="115.9" r="2.6" fill="#fff" stroke="#000" stroke-width="1"/>
<circle cx="404.0" cy="112.4" r="2.6" fill="#fff" stroke="#000" stroke-width="1"/>
<circle cx="418.7" cy="102.0" r="2.6" fill="#fff" stroke="#000" stroke-width="1"/>
<circle cx="429.7" cy="99.1" r="2.6" fill="#fff" stroke="#000" stroke-width="1"/>
<circle cx="445.3" cy="67.3" r="2.6" fill="#fff" stroke="#000" stroke-width="1"/>
<circle cx="456.3" cy="56.1" r="2.6" fill="#fff" stroke="#000" stroke-width="1"/>
<circle cx="472.0" cy="32.8" r="2.6" fill="#fff" stroke="#000" stroke-width="1"/>
<circle cx="364.5" cy="128.4" r="2.6" fill="#fff" stroke="#000" stroke-width="1"/>
<circle cx="377.0" cy="121.9" r="2.6" fill="#fff" stroke="#000" stroke-width="1"/>
<circle cx="392.0" cy="118.8" r="2.6" fill="#fff" stroke="#000" stroke-width="1"/>
<circle cx="404.0" cy="116.7" r="2.6" fill="#fff" stroke="#000" stroke-width="1"/>
<circle cx="418.7" cy="107.2" r="2.6" fill="#fff" stroke="#000" stroke-width="1"/>
<circle cx="429.7" cy="102.4" r="2.6" fill="#fff" stroke="#000" stroke-width="1"/>
<circle cx="445.3" cy="81.2" r="2.6" fill="#fff" stroke="#000" stroke-width="1"/>
<circle cx="456.3" cy="66.0" r="2.6" fill="#fff" stroke="#000" stroke-width="1"/>
<circle cx="472.0" cy="50.0" r="2.6" fill="#fff" stroke="#000" stroke-width="1"/>
<circle cx="364.5" cy="128.4" r="2.6" fill="#fff" stroke="#000" stroke-width="1"/>
<circle cx="377.0" cy="121.9" r="2.6" fill="#fff" stroke="#000" stroke-width="1"/>
<circle cx="392.0" cy="115.9" r="2.6" fill="#fff" stroke="#000" stroke-width="1"/>
<circle cx="404.0" cy="112.4" r="2.6" fill="#fff" stroke="#000" stroke-width="1"/>
<circle cx="418.7" cy="109.8" r="2.6" fill="#fff" stroke="#000" stroke-width="1"/>
<circle cx="429.7" cy="102.4" r="2.6" fill="#fff" stroke="#000" stroke-width="1"/>
<circle cx="445.3" cy="81.2" r="2.6" fill="#fff" stroke="#000" stroke-width="1"/>
<circle cx="456.3" cy="66.0" r="2.6" fill="#fff" stroke="#000" stroke-width="1"/>
<circle cx="472.0" cy="55.2" r="2.6" fill="#fff" stroke="#000" stroke-width="1"/>
<circle cx="364.5" cy="128.4" r="2.6" fill="#fff" stroke="#000" stroke-width="1"/>
<circle cx="377.0" cy="124.4" r="2.6" fill="#fff" stroke="#000" stroke-width="1"/>
<circle cx="392.0" cy="118.8" r="2.6" fill="#fff" stroke="#000" stroke-width="1"/>
<circle cx="404.0" cy="116.7" r="2.6" fill="#fff" stroke="#000" stroke-width="1"/>
<circle cx="418.7" cy="109.8" r="2.6" fill="#fff" stroke="#000" stroke-width="1"/>
<circle cx="429.7" cy="106.4" r="2.6" fill="#fff" stroke="#000" stroke-width="1"/>
<circle cx="445.3" cy="85.9" r="2.6" fill="#fff" stroke="#000" stroke-width="1"/>
<circle cx="456.3" cy="71.9" r="2.6" fill="#fff" stroke="#000" stroke-width="1"/>
<circle cx="472.0" cy="55.2" r="2.6" fill="#fff" stroke="#000" stroke-width="1"/>
<circle cx="364.5" cy="128.4" r="2.6" fill="#fff" stroke="#000" stroke-width="1"/>
<circle cx="377.0" cy="124.4" r="2.6" fill="#fff" stroke="#000" stroke-width="1"/>
<circle cx="392.0" cy="118.8" r="2.6" fill="#fff" stroke="#000" stroke-width="1"/>
<circle cx="404.0" cy="121.1" r="2.6" fill="#fff" stroke="#000" stroke-width="1"/>
<circle cx="418.7" cy="113.3" r="2.6" fill="#fff" stroke="#000" stroke-width="1"/>
<circle cx="429.7" cy="106.4" r="2.6" fill="#fff" stroke="#000" stroke-width="1"/>
<circle cx="445.3" cy="90.9" r="2.6" fill="#fff" stroke="#000" stroke-width="1"/>
<circle cx="456.3" cy="76.6" r="2.6" fill="#fff" stroke="#000" stroke-width="1"/>
<circle cx="472.0" cy="60.8" r="2.6" fill="#fff" stroke="#000" stroke-width="1"/>
<circle cx="364.5" cy="128.4" r="2.6" fill="#fff" stroke="#000" stroke-width="1"/>
<circle cx="377.0" cy="121.9" r="2.6" fill="#fff" stroke="#000" stroke-width="1"/>
<circle cx="392.0" cy="118.8" r="2.6" fill="#fff" stroke="#000" stroke-width="1"/>
<circle cx="404.0" cy="116.7" r="2.6" fill="#fff" stroke="#000" stroke-width="1"/>
<circle cx="418.7" cy="115.9" r="2.6" fill="#fff" stroke="#000" stroke-width="1"/>
<circle cx="429.7" cy="111.5" r="2.6" fill="#fff" stroke="#000" stroke-width="1"/>
<circle cx="445.3" cy="97.1" r="2.6" fill="#fff" stroke="#000" stroke-width="1"/>
<circle cx="456.3" cy="90.9" r="2.6" fill="#fff" stroke="#000" stroke-width="1"/>
<circle cx="472.0" cy="76.6" r="2.6" fill="#fff" stroke="#000" stroke-width="1"/>
<circle cx="364.5" cy="128.4" r="2.6" fill="#fff" stroke="#000" stroke-width="1"/>
<circle cx="377.0" cy="124.4" r="2.6" fill="#fff" stroke="#000" stroke-width="1"/>
<circle cx="392.0" cy="118.8" r="2.6" fill="#fff" stroke="#000" stroke-width="1"/>
<circle cx="404.0" cy="116.7" r="2.6" fill="#fff" stroke="#000" stroke-width="1"/>
<circle cx="418.7" cy="115.9" r="2.6" fill="#fff" stroke="#000" stroke-width="1"/>
<circle cx="429.7" cy="114.1" r="2.6" fill="#fff" stroke="#000" stroke-width="1"/>
<circle cx="445.3" cy="100.4" r="2.6" fill="#fff" stroke="#000" stroke-width="1"/>
<circle cx="456.3" cy="90.9" r="2.6" fill="#fff" stroke="#000" stroke-width="1"/>
<circle cx="472.0" cy="87.4" r="2.6" fill="#fff" stroke="#000" stroke-width="1"/>
<line x1="191.3" y1="190.5" x2="191.3" y2="317.2" stroke="#000" stroke-width="1.4" />
<line x1="190.60000000000002" y1="316.5" x2="353" y2="316.5" stroke="#000" stroke-width="1.4" />
<line x1="191.3" y1="304.06" x2="192.8" y2="304.06" stroke="#000" stroke-width="1" />
<line x1="191.3" y1="291.62" x2="193.3" y2="291.62" stroke="#000" stroke-width="1" />
<line x1="191.3" y1="279.18" x2="192.8" y2="279.18" stroke="#000" stroke-width="1" />
<line x1="191.3" y1="266.74" x2="193.3" y2="266.74" stroke="#000" stroke-width="1" />
<line x1="191.3" y1="254.3" x2="192.8" y2="254.3" stroke="#000" stroke-width="1" />
<line x1="191.3" y1="241.86" x2="193.3" y2="241.86" stroke="#000" stroke-width="1" />
<line x1="191.3" y1="229.42000000000002" x2="192.8" y2="229.42000000000002" stroke="#000" stroke-width="1" />
<line x1="191.3" y1="216.98000000000002" x2="193.3" y2="216.98000000000002" stroke="#000" stroke-width="1" />
<line x1="191.3" y1="204.54000000000002" x2="192.8" y2="204.54000000000002" stroke="#000" stroke-width="1" />
<line x1="191.3" y1="192.1" x2="193.3" y2="192.1" stroke="#000" stroke-width="1" />
<text x="186.70000000000002" y="319.3" font-size="9.2" text-anchor="end" font-family="Liberation Serif, serif" >0</text>
<text x="186.70000000000002" y="294.42" font-size="9.2" text-anchor="end" font-family="Liberation Serif, serif" >40</text>
<text x="186.70000000000002" y="269.54" font-size="9.2" text-anchor="end" font-family="Liberation Serif, serif" >80</text>
<text x="186.70000000000002" y="244.66000000000003" font-size="9.2" text-anchor="end" font-family="Liberation Serif, serif" >120</text>
<text x="186.70000000000002" y="219.78000000000003" font-size="9.2" text-anchor="end" font-family="Liberation Serif, serif" >160</text>
<text x="186.70000000000002" y="194.9" font-size="9.2" text-anchor="end" font-family="Liberation Serif, serif" >200</text>
<line x1="213.8" y1="316.5" x2="213.8" y2="314.2" stroke="#000" stroke-width="1.2" />
<line x1="236.3" y1="316.5" x2="236.3" y2="314.2" stroke="#000" stroke-width="1.2" />
<line x1="258.8" y1="316.5" x2="258.8" y2="314.2" stroke="#000" stroke-width="1.2" />
<line x1="281.3" y1="316.5" x2="281.3" y2="314.2" stroke="#000" stroke-width="1.2" />
<line x1="303.8" y1="316.5" x2="303.8" y2="314.2" stroke="#000" stroke-width="1.2" />
<line x1="326.3" y1="316.5" x2="326.3" y2="314.2" stroke="#000" stroke-width="1.2" />
<line x1="348.8" y1="316.5" x2="348.8" y2="314.2" stroke="#000" stroke-width="1.2" />
<text x="191.3" y="328.9" font-size="9.5" text-anchor="middle" font-family="Liberation Serif, serif" >0</text>
<text x="213.8" y="328.9" font-size="9.5" text-anchor="middle" font-family="Liberation Serif, serif" >5</text>
<text x="236.3" y="328.9" font-size="9.5" text-anchor="middle" font-family="Liberation Serif, serif" >10</text>
<text x="258.8" y="328.9" font-size="9.5" text-anchor="middle" font-family="Liberation Serif, serif" >15</text>
<text x="281.3" y="328.9" font-size="9.5" text-anchor="middle" font-family="Liberation Serif, serif" >20</text>
<text x="303.8" y="328.9" font-size="9.5" text-anchor="middle" font-family="Liberation Serif, serif" >25</text>
<text x="326.3" y="328.9" font-size="9.5" text-anchor="middle" font-family="Liberation Serif, serif" >30</text>
<text x="348.8" y="328.9" font-size="9.5" text-anchor="middle" font-family="Liberation Serif, serif" >35</text>
<text x="159.6" y="188.2" font-size="13.7" text-anchor="start" font-family="Liberation Sans, sans-serif" font-weight="bold" >B</text>
<text transform="translate(167.8,252.6) rotate(-90)" font-size="10.15" text-anchor="middle" font-family="Liberation Serif, serif">Tumor size (mm<tspan font-size="6.5" dy="-3.5">2</tspan><tspan dy="3.5">)</tspan></text>
<text x="333" y="339.8" font-size="9.8" text-anchor="start" font-family="Liberation Serif, serif" font-weight="bold" >Days</text>
<text x="239.5" y="243.8" font-size="9.2" text-anchor="middle" font-family="Liberation Serif, serif" >CTL adoptive</text>
<text x="239.5" y="254.5" font-size="9.2" text-anchor="middle" font-family="Liberation Serif, serif" >i.v. transfer</text>
<line x1="223.3" y1="258.5" x2="223.3" y2="271.0" stroke="#000" stroke-width="2.1" />
<path d="M220.0 270.0L226.60000000000002 270.0L223.3 276.3Z" fill="#000"/>
<line x1="256.4" y1="258.5" x2="256.4" y2="271.0" stroke="#000" stroke-width="2.1" />
<path d="M253.09999999999997 270.0L259.7 270.0L256.4 276.3Z" fill="#000"/>
<line x1="319.1" y1="202.3" x2="319.1" y2="249.5" stroke="#000" stroke-width="1" />
<line x1="316.90000000000003" y1="202.3" x2="321.3" y2="202.3" stroke="#000" stroke-width="1" />
<line x1="316.90000000000003" y1="249.5" x2="321.3" y2="249.5" stroke="#000" stroke-width="1" />
<line x1="319.1" y1="214.8" x2="319.1" y2="240.6" stroke="#000" stroke-width="1" />
<line x1="316.90000000000003" y1="214.8" x2="321.3" y2="214.8" stroke="#000" stroke-width="1" />
<line x1="316.90000000000003" y1="240.6" x2="321.3" y2="240.6" stroke="#000" stroke-width="1" />
<line x1="301.1" y1="227.3" x2="301.1" y2="261.4" stroke="#000" stroke-width="1" />
<line x1="298.90000000000003" y1="227.3" x2="303.3" y2="227.3" stroke="#000" stroke-width="1" />
<line x1="298.90000000000003" y1="261.4" x2="303.3" y2="261.4" stroke="#000" stroke-width="1" />
<line x1="301.1" y1="232.7" x2="301.1" y2="257.5" stroke="#000" stroke-width="1" />
<line x1="298.90000000000003" y1="232.7" x2="303.3" y2="232.7" stroke="#000" stroke-width="1" />
<line x1="298.90000000000003" y1="257.5" x2="303.3" y2="257.5" stroke="#000" stroke-width="1" />
<line x1="287.8" y1="246.2" x2="287.8" y2="276.8" stroke="#000" stroke-width="1" />
<line x1="285.6" y1="246.2" x2="290.0" y2="246.2" stroke="#000" stroke-width="1" />
<line x1="285.6" y1="276.8" x2="290.0" y2="276.8" stroke="#000" stroke-width="1" />
<line x1="287.8" y1="250" x2="287.8" y2="267.5" stroke="#000" stroke-width="1" />
<line x1="285.6" y1="250" x2="290.0" y2="250" stroke="#000" stroke-width="1" />
<line x1="285.6" y1="267.5" x2="290.0" y2="267.5" stroke="#000" stroke-width="1" />
<line x1="269.5" y1="273.8" x2="269.5" y2="283" stroke="#000" stroke-width="1" />
<line x1="267.3" y1="273.8" x2="271.7" y2="273.8" stroke="#000" stroke-width="1" />
<line x1="267.3" y1="283" x2="271.7" y2="283" stroke="#000" stroke-width="1" />
<line x1="269.5" y1="280" x2="269.5" y2="294" stroke="#000" stroke-width="1" />
<line x1="267.3" y1="280" x2="271.7" y2="280" stroke="#000" stroke-width="1" />
<line x1="267.3" y1="294" x2="271.7" y2="294" stroke="#000" stroke-width="1" />
<line x1="255.8" y1="283" x2="255.8" y2="292" stroke="#000" stroke-width="1" />
<line x1="253.60000000000002" y1="283" x2="258.0" y2="283" stroke="#000" stroke-width="1" />
<line x1="253.60000000000002" y1="292" x2="258.0" y2="292" stroke="#000" stroke-width="1" />
<line x1="255.8" y1="286" x2="255.8" y2="299.6" stroke="#000" stroke-width="1" />
<line x1="253.60000000000002" y1="286" x2="258.0" y2="286" stroke="#000" stroke-width="1" />
<line x1="253.60000000000002" y1="299.6" x2="258.0" y2="299.6" stroke="#000" stroke-width="1" />
<line x1="237.6" y1="296" x2="237.6" y2="303" stroke="#000" stroke-width="1" />
<line x1="235.4" y1="296" x2="239.79999999999998" y2="296" stroke="#000" stroke-width="1" />
<line x1="235.4" y1="303" x2="239.79999999999998" y2="303" stroke="#000" stroke-width="1" />
<line x1="269.5" y1="298.6" x2="269.5" y2="310.8" stroke="#000" stroke-width="1" />
<line x1="267.3" y1="298.6" x2="271.7" y2="298.6" stroke="#000" stroke-width="1" />
<line x1="267.3" y1="310.8" x2="271.7" y2="310.8" stroke="#000" stroke-width="1" />
<line x1="287.8" y1="294.6" x2="287.8" y2="307.5" stroke="#000" stroke-width="1" />
<line x1="285.6" y1="294.6" x2="290.0" y2="294.6" stroke="#000" stroke-width="1" />
<line x1="285.6" y1="307.5" x2="290.0" y2="307.5" stroke="#000" stroke-width="1" />
<line x1="301.1" y1="286.7" x2="301.1" y2="302" stroke="#000" stroke-width="1" />
<line x1="298.90000000000003" y1="286.7" x2="303.3" y2="286.7" stroke="#000" stroke-width="1" />
<line x1="298.90000000000003" y1="302" x2="303.3" y2="302" stroke="#000" stroke-width="1" />
<line x1="319.1" y1="273.4" x2="319.1" y2="294" stroke="#000" stroke-width="1" />
<line x1="316.90000000000003" y1="273.4" x2="321.3" y2="273.4" stroke="#000" stroke-width="1" />
<line x1="316.90000000000003" y1="294" x2="321.3" y2="294" stroke="#000" stroke-width="1" />
<line x1="255.8" y1="306" x2="255.8" y2="313" stroke="#000" stroke-width="1" />
<line x1="253.60000000000002" y1="306" x2="258.0" y2="306" stroke="#000" stroke-width="1" />
<line x1="253.60000000000002" y1="313" x2="258.0" y2="313" stroke="#000" stroke-width="1" />
<line x1="237.6" y1="305" x2="237.6" y2="311" stroke="#000" stroke-width="1" />
<line x1="235.4" y1="305" x2="239.79999999999998" y2="305" stroke="#000" stroke-width="1" />
<line x1="235.4" y1="311" x2="239.79999999999998" y2="311" stroke="#000" stroke-width="1" />
<polyline points="192.0,317.0 205.8,308.0 223.7,304.0 237.6,308.0 255.8,309.5 269.5,304.2 287.8,301.2 301.1,293.0 319.1,283.7" fill="none" stroke="#000" stroke-width="1.8" stroke-linejoin="round"/>
<rect x="234.9" y="305.3" width="5.4" height="5.4" fill="#000" stroke="#000" stroke-width="1"/>
<rect x="253.1" y="306.8" width="5.4" height="5.4" fill="#000" stroke="#000" stroke-width="1"/>
<rect x="266.8" y="301.5" width="5.4" height="5.4" fill="#000" stroke="#000" stroke-width="1"/>
<rect x="285.1" y="298.5" width="5.4" height="5.4" fill="#000" stroke="#000" stroke-width="1"/>
<rect x="298.4" y="290.3" width="5.4" height="5.4" fill="#000" stroke="#000" stroke-width="1"/>
<rect x="316.4" y="281.0" width="5.4" height="5.4" fill="#000" stroke="#000" stroke-width="1"/>
<polyline points="192.0,317.0 205.8,308.0 223.7,304.0 237.6,299.0 255.8,287.3 269.5,278.4 287.8,256.8 301.1,243.0 319.1,225.5" fill="none" stroke="#000" stroke-width="1.8" stroke-linejoin="round"/>
<path d="M192.0 313.2L195.8 317.0L192.0 320.8L188.2 317.0Z" fill="#fff" stroke="#000" stroke-width="1.1"/>
<path d="M205.8 304.2L209.6 308.0L205.8 311.8L202.0 308.0Z" fill="#fff" stroke="#000" stroke-width="1.1"/>
<path d="M223.7 300.2L227.5 304.0L223.7 307.8L219.9 304.0Z" fill="#fff" stroke="#000" stroke-width="1.1"/>
<path d="M237.6 295.2L241.4 299.0L237.6 302.8L233.8 299.0Z" fill="#fff" stroke="#000" stroke-width="1.1"/>
<path d="M255.8 283.5L259.6 287.3L255.8 291.1L252.0 287.3Z" fill="#fff" stroke="#000" stroke-width="1.1"/>
<path d="M269.5 274.6L273.3 278.4L269.5 282.2L265.7 278.4Z" fill="#fff" stroke="#000" stroke-width="1.1"/>
<path d="M287.8 253.0L291.6 256.8L287.8 260.6L284.0 256.8Z" fill="#fff" stroke="#000" stroke-width="1.1"/>
<path d="M301.1 239.2L304.9 243.0L301.1 246.8L297.3 243.0Z" fill="#fff" stroke="#000" stroke-width="1.1"/>
<path d="M319.1 221.7L322.9 225.5L319.1 229.3L315.3 225.5Z" fill="#fff" stroke="#000" stroke-width="1.1"/>
<polyline points="192.0,317.0 205.8,308.0 223.7,304.0 237.6,299.6 255.8,291.7 269.5,286.2 287.8,260.6 301.1,244.0 319.1,226.3" fill="none" stroke="#000" stroke-width="1.8" stroke-linejoin="round"/>
<circle cx="192.0" cy="317.0" r="3.35" fill="#fff" stroke="#000" stroke-width="1.2"/>
<circle cx="205.8" cy="308.0" r="3.35" fill="#fff" stroke="#000" stroke-width="1.2"/>
<circle cx="223.7" cy="304.0" r="3.35" fill="#fff" stroke="#000" stroke-width="1.2"/>
<circle cx="237.6" cy="299.6" r="3.35" fill="#fff" stroke="#000" stroke-width="1.2"/>
<circle cx="255.8" cy="291.7" r="3.35" fill="#fff" stroke="#000" stroke-width="1.2"/>
<circle cx="269.5" cy="286.2" r="3.35" fill="#fff" stroke="#000" stroke-width="1.2"/>
<circle cx="287.8" cy="260.6" r="3.35" fill="#fff" stroke="#000" stroke-width="1.2"/>
<circle cx="301.1" cy="244.0" r="3.35" fill="#fff" stroke="#000" stroke-width="1.2"/>
<circle cx="319.1" cy="226.3" r="3.35" fill="#fff" stroke="#000" stroke-width="1.2"/>
<path d="M325.5 225.7H336.4V252 M325.5 228.1H331.8V252 M331.8 272.2V282.1 M336.4 272.2V282.1 M327.5 282.1H336.9" fill="none" stroke="#000" stroke-width="1.15"/>
<text x="316.3" y="265.5" font-size="9.3" font-family="Liberation Serif, serif"><tspan font-style="italic">P</tspan> &lt; 0.001</text>
<line x1="206" y1="349.6" x2="225.6" y2="349.6" stroke="#000" stroke-width="1.5" />
<rect x="213.4" y="347.0" width="5.2" height="5.2" fill="#000" stroke="#000" stroke-width="1"/>
<text x="233.8" y="352.90000000000003" font-size="10.2" text-anchor="start" font-family="Liberation Serif, serif" >CDH3 CTL lines (n=7)</text>
<line x1="206" y1="365" x2="225.6" y2="365" stroke="#000" stroke-width="1.5" />
<path d="M216.0 361.6L219.4 365.0L216.0 368.4L212.6 365.0Z" fill="#fff" stroke="#000" stroke-width="1"/>
<line x1="206" y1="380.2" x2="225.6" y2="380.2" stroke="#000" stroke-width="1.5" />
<circle cx="216.0" cy="380.2" r="2.9" fill="#fff" stroke="#000" stroke-width="1"/>
<text x="233.8" y="383.5" font-size="10.2" text-anchor="start" font-family="Liberation Serif, serif" >PBS alone (n=7)</text>
<text x="233.8" y="368.3" font-size="10.2" font-family="Liberation Serif, serif">Control CD8<tspan font-size="6.5" dy="-3.5">+</tspan><tspan dy="3.5"> T cells (n=7)</tspan></text>
<rect x="0" y="0" width="520" height="1.2" fill="#000"/><rect x="0" y="0" width="1.2" height="403" fill="#000"/>
<rect x="518.2" y="0" width="1.8" height="403" fill="#000"/><rect x="0" y="401.2" width="520" height="1.8" fill="#000"/>
</svg>
</body></html>
